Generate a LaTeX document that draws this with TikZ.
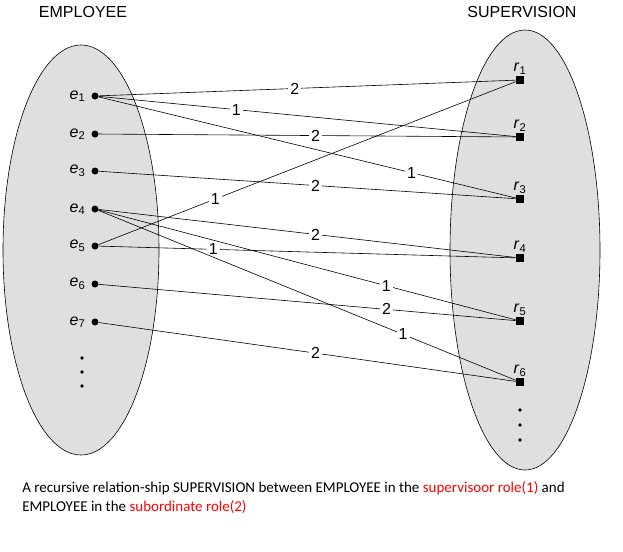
\documentclass[tikz,border=0pt]{standalone}
\usepackage{fontspec}
\setmainfont{Liberation Sans}
\newfontfamily\captfont{Carlito}
\begin{document}
\begin{tikzpicture}[x=1pt, y=-1pt, semithick, black,
  ent/.style={circle, fill, inner sep=0pt, minimum size=7pt},
  rel/.style={rectangle, fill, inner sep=0pt, minimum size=8pt},
  wt/.style={fill=white, inner sep=2pt, font=\fontsize{16}{16}\selectfont},
  ttl/.style={font=\fontsize{16}{16}\selectfont}]
\useasboundingbox (0,0) rectangle (623,551);

% the two sets
\draw[fill=gray!25] (81,250) ellipse [x radius=78, y radius=205];
\draw[fill=gray!25] (525,250) ellipse [x radius=75, y radius=220];
\node[ttl] (tEmp) at (83,12) {EMPLOYEE};
\node[ttl] (tSup) at (522,12) {SUPERVISION};

% employees
\foreach \i/\y in {1/96,2/134,3/171,4/209,5/246,6/284,7/322} {
  \node[ent] (e\i) at (95,\y) {};
  \node[ttl, left=6pt] at (e\i) {\textit{e}\textsubscript{\i}};
}
\foreach \y in {358,372,386}
  \fill (82,\y) circle (1.8pt);

% relationship instances
\foreach \j/\y in {1/80,2/137,3/199,4/258,5/321,6/382} {
  \node[rel] (r\j) at (520,\y) {};
  \node[ttl, above=2pt] at (r\j) {\textit{r}\textsubscript{\j}};
}
\foreach \y in {410,425,440}
  \fill (520,\y) circle (1.8pt);

% role lines
\draw (e1) -- node[wt, pos=.47] {2} (r1);
\draw (e1) -- node[wt, pos=.33] {1} (r2);
\draw (e1) -- node[wt, pos=.75] {1} (r3);
\draw (e2) -- node[wt, pos=.52] {2} (r2);
\draw (e3) -- node[wt, pos=.52] {2} (r3);
\draw (e5) -- node[wt, pos=.28] {1} (r1);
\draw (e4) -- node[wt, pos=.52] {2} (r4);
\draw (e5) -- node[wt, pos=.275] {1} (r4);
\draw (e4) -- node[wt, pos=.69] {1} (r5);
\draw (e4) -- node[wt, pos=.73] {1} (r6);
\draw (e6) -- node[wt, pos=.69] {2} (r5);
\draw (e7) -- node[wt, pos=.52] {2} (r6);

% caption
\node[anchor=north west, align=left, inner sep=0pt, font=\captfont\fontsize{15}{19}\selectfont] (capt) at (22,481)
  {A recursive relation-ship SUPERVISION between EMPLOYEE in the \textcolor{red}{supervisoor role(1)} and\\
   EMPLOYEE in the \textcolor{red}{subordinate role(2)}};
\end{tikzpicture}
\end{document}
